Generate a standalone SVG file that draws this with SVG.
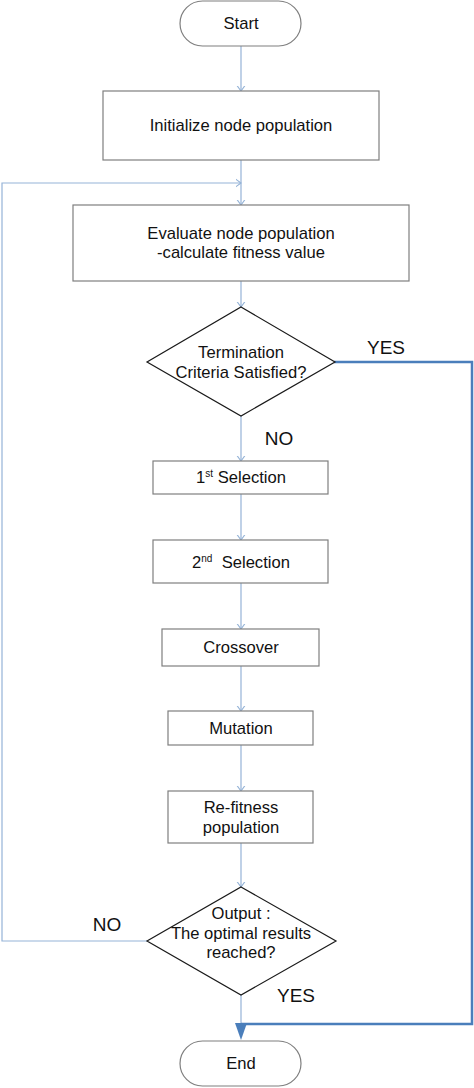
<svg xmlns="http://www.w3.org/2000/svg" width="474" height="1088" viewBox="0 0 474 1088">
<style>
.term{fill:#fff;stroke:#7f7f7f;stroke-width:1.2}
.box{fill:#fff;stroke:#7f7f7f;stroke-width:1.2}
.dia{fill:#fff;stroke:#1a1a1a;stroke-width:1.2}
.t{font-family:"Liberation Sans",Arial,sans-serif;font-size:16.6px;fill:#111;text-anchor:middle}
.lbl{font-family:"Liberation Sans",Arial,sans-serif;font-size:19px;fill:#111;text-anchor:middle}
.thin{fill:none;stroke:#95b3d7;stroke-width:1.2}
.thick{fill:none;stroke:#4a7ebb;stroke-width:2.5}
</style>
<defs>
<marker id="ah" viewBox="0 0 6 10" refX="5.5" refY="5" markerWidth="6" markerHeight="10" markerUnits="userSpaceOnUse" orient="auto">
<path d="M0,1 L5.5,5 L0,9" fill="none" stroke="#95b3d7" stroke-width="1.1"/>
</marker>
</defs>
<g id="connectors">
<path class="thin" d="M241,46 V91" marker-end="url(#ah)"/>
<path class="thin" d="M241,160 V205" marker-end="url(#ah)"/>
<path class="thin" d="M147,941 H2 V183 H241" marker-end="url(#ah)"/>
<path class="thin" d="M241,281 V307" marker-end="url(#ah)"/>
<path class="thin" d="M241,416 V461" marker-end="url(#ah)"/>
<path class="thin" d="M241,494 V540" marker-end="url(#ah)"/>
<path class="thin" d="M241,583 V629" marker-end="url(#ah)"/>
<path class="thin" d="M241,666 V711" marker-end="url(#ah)"/>
<path class="thin" d="M241,745 V791" marker-end="url(#ah)"/>
<path class="thin" d="M241,843 V887" marker-end="url(#ah)"/>
<path class="thin" d="M241,995 V1024"/>
<path class="thick" d="M334,362 H472 V1024 H241"/>
<polygon points="235,1023 247,1023 241,1040" fill="#4a7ebb"/>
<text class="lbl" x="386" y="354">YES</text>
<text class="lbl" x="279" y="445">NO</text>
<text class="lbl" x="107" y="931">NO</text>
<text class="lbl" x="296" y="1002">YES</text>
</g>
<g id="start">
<rect class="term" x="180" y="1" width="121" height="45" rx="22.5"/>
<text class="t" x="241" y="29">Start</text>
</g>
<g id="init">
<rect class="box" x="103" y="91" width="276" height="69"/>
<text class="t" x="241" y="131">Initialize node population</text>
</g>
<g id="evaluate">
<rect class="box" x="73" y="205" width="336" height="76"/>
<text class="t" x="241" y="239">Evaluate node population</text>
<text class="t" x="241" y="258">-calculate fitness value</text>
</g>
<g id="termination">
<polygon class="dia" points="241,307 335,362 241,416 147,362"/>
<text class="t" x="241" y="358">Termination</text>
<text class="t" x="241" y="378">Criteria Satisfied?</text>
</g>
<g id="sel1">
<rect class="box" x="153" y="461" width="175" height="33"/>
<text class="t" x="241" y="483">1<tspan font-size="10" dy="-6">st</tspan><tspan dy="6"> Selection</tspan></text>
</g>
<g id="sel2">
<rect class="box" x="153" y="540" width="175" height="43"/>
<text class="t" x="241" y="568" xml:space="preserve">2<tspan font-size="10" dy="-6">nd</tspan><tspan dy="6">  Selection</tspan></text>
</g>
<g id="crossover">
<rect class="box" x="162" y="629" width="157" height="37"/>
<text class="t" x="241" y="653">Crossover</text>
</g>
<g id="mutation">
<rect class="box" x="168" y="711" width="145" height="34"/>
<text class="t" x="241" y="734">Mutation</text>
</g>
<g id="refitness">
<rect class="box" x="168" y="791" width="145" height="52"/>
<text class="t" x="241" y="813">Re-fitness</text>
<text class="t" x="241" y="833">population</text>
</g>
<g id="output">
<polygon class="dia" points="241,887 336,941 241,995 147,941"/>
<text class="t" x="241" y="919">Output :</text>
<text class="t" x="241" y="939">The optimal results</text>
<text class="t" x="241" y="958">reached?</text>
</g>
<g id="end">
<rect class="term" x="180" y="1041" width="121" height="45" rx="22.5"/>
<text class="t" x="241" y="1069">End</text>
</g>
</svg>
